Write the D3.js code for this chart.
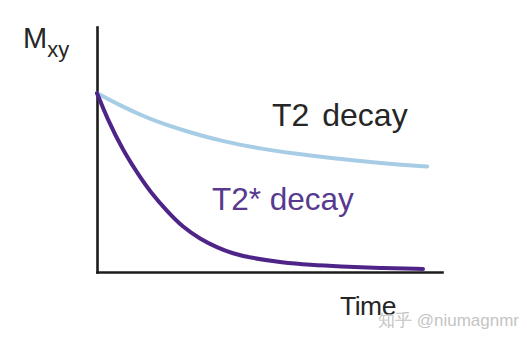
<!DOCTYPE html>
<html>
<head>
<meta charset="utf-8">
<script src="https://cdn.jsdelivr.net/npm/d3@7"></script>
<style>
  body { margin: 0; background: #fff; }
  text { font-family: "Liberation Sans", Arial, Helvetica, sans-serif; }
</style>
</head>
<body>
<div id="chart-area"></div>
<script>
// time axis in arbitrary units (0..100), Mxy normalised to 1 at t=0
var t2Time   = [0, 2.9, 7.5, 12.5, 17.4, 27, 36.5, 47, 62, 76, 88, 95.7];
var t2Values = [1.0, 0.97, 0.925, 0.88, 0.84, 0.78, 0.73, 0.69, 0.65, 0.62, 0.60, 0.59];

var t2sTime   = [0, 2.9, 7.5, 12.5, 15.4, 20.3, 24.9, 29.9, 34.8, 39.4, 44.3, 53.9, 61.7, 70.4, 82, 94.5];
var t2sValues = [1.0, 0.86, 0.68, 0.53, 0.45, 0.34, 0.25, 0.185, 0.137, 0.103, 0.08, 0.052, 0.04, 0.031, 0.022, 0.017];

var width = 527, height = 345;

var svg = d3.select("#chart-area")
    .append("svg")
        .attr("width", width)
        .attr("height", height);

var x = d3.scaleLinear()
    .domain([0, 100])
    .range([97, 442]);

var y = d3.scaleLinear()
    .domain([0, 1.37])
    .range([272, 27]);

// axes: just the two lines, no ticks
var xAxisCall = d3.axisBottom(x).ticks(0).tickSize(0).tickSizeOuter(0);
var yAxisCall = d3.axisLeft(y).ticks(0).tickSize(0).tickSizeOuter(0);

svg.append("g")
    .attr("class", "x axis")
    .attr("transform", "translate(0," + y(0) + ")")
    .call(xAxisCall);
svg.append("g")
    .attr("class", "y axis")
    .attr("transform", "translate(" + x(0) + ",0)")
    .call(yAxisCall);
svg.selectAll(".axis path")
    .attr("stroke", "#1c1c1c")
    .attr("stroke-width", 2.6)
    .attr("stroke-linecap", "square");

var line = d3.line()
    .x(function(d){ return x(d[0]); })
    .y(function(d){ return y(d[1]); })
    .curve(d3.curveBasis);

svg.append("path")
    .datum(d3.zip(t2Time, t2Values))
    .attr("fill", "none")
    .attr("stroke", "#a7cde6")
    .attr("stroke-width", 4)
    .attr("stroke-linecap", "round")
    .attr("d", line);

svg.append("path")
    .datum(d3.zip(t2sTime, t2sValues))
    .attr("fill", "none")
    .attr("stroke", "#4e2488")
    .attr("stroke-width", 4)
    .attr("stroke-linecap", "round")
    .attr("d", line);

// labels
var yLabel = svg.append("text")
    .attr("x", 23)
    .attr("y", 48)
    .attr("fill", "#262626");
yLabel.append("tspan").attr("font-size", "29px").text("M");
yLabel.append("tspan").attr("font-size", "22px").attr("dy", 9).text("xy");

var t2Label = svg.append("text")
    .attr("x", 272)
    .attr("y", 126)
    .attr("font-size", "32px")
    .attr("fill", "#262626");
t2Label.append("tspan").text("T2");
t2Label.append("tspan").attr("dx", 4).text(" decay");

svg.append("text")
    .attr("x", 212)
    .attr("y", 210)
    .attr("font-size", "31.5px")
    .attr("fill", "#573a8e")
    .text("T2* decay");

svg.append("text")
    .attr("x", 340)
    .attr("y", 315)
    .attr("font-size", "26.5px")
    .attr("letter-spacing", "-0.5px")
    .attr("fill", "#262626")
    .text("Time");

// watermark
svg.append("text")
    .attr("x", 378)
    .attr("y", 326)
    .attr("font-size", "17px")
    .attr("fill", "#c4c4c4")
    .attr("stroke", "#ffffff")
    .attr("stroke-width", 0.6)
    .attr("paint-order", "stroke")
    .text("知乎 @niumagnmr");
</script>
</body>
</html>
